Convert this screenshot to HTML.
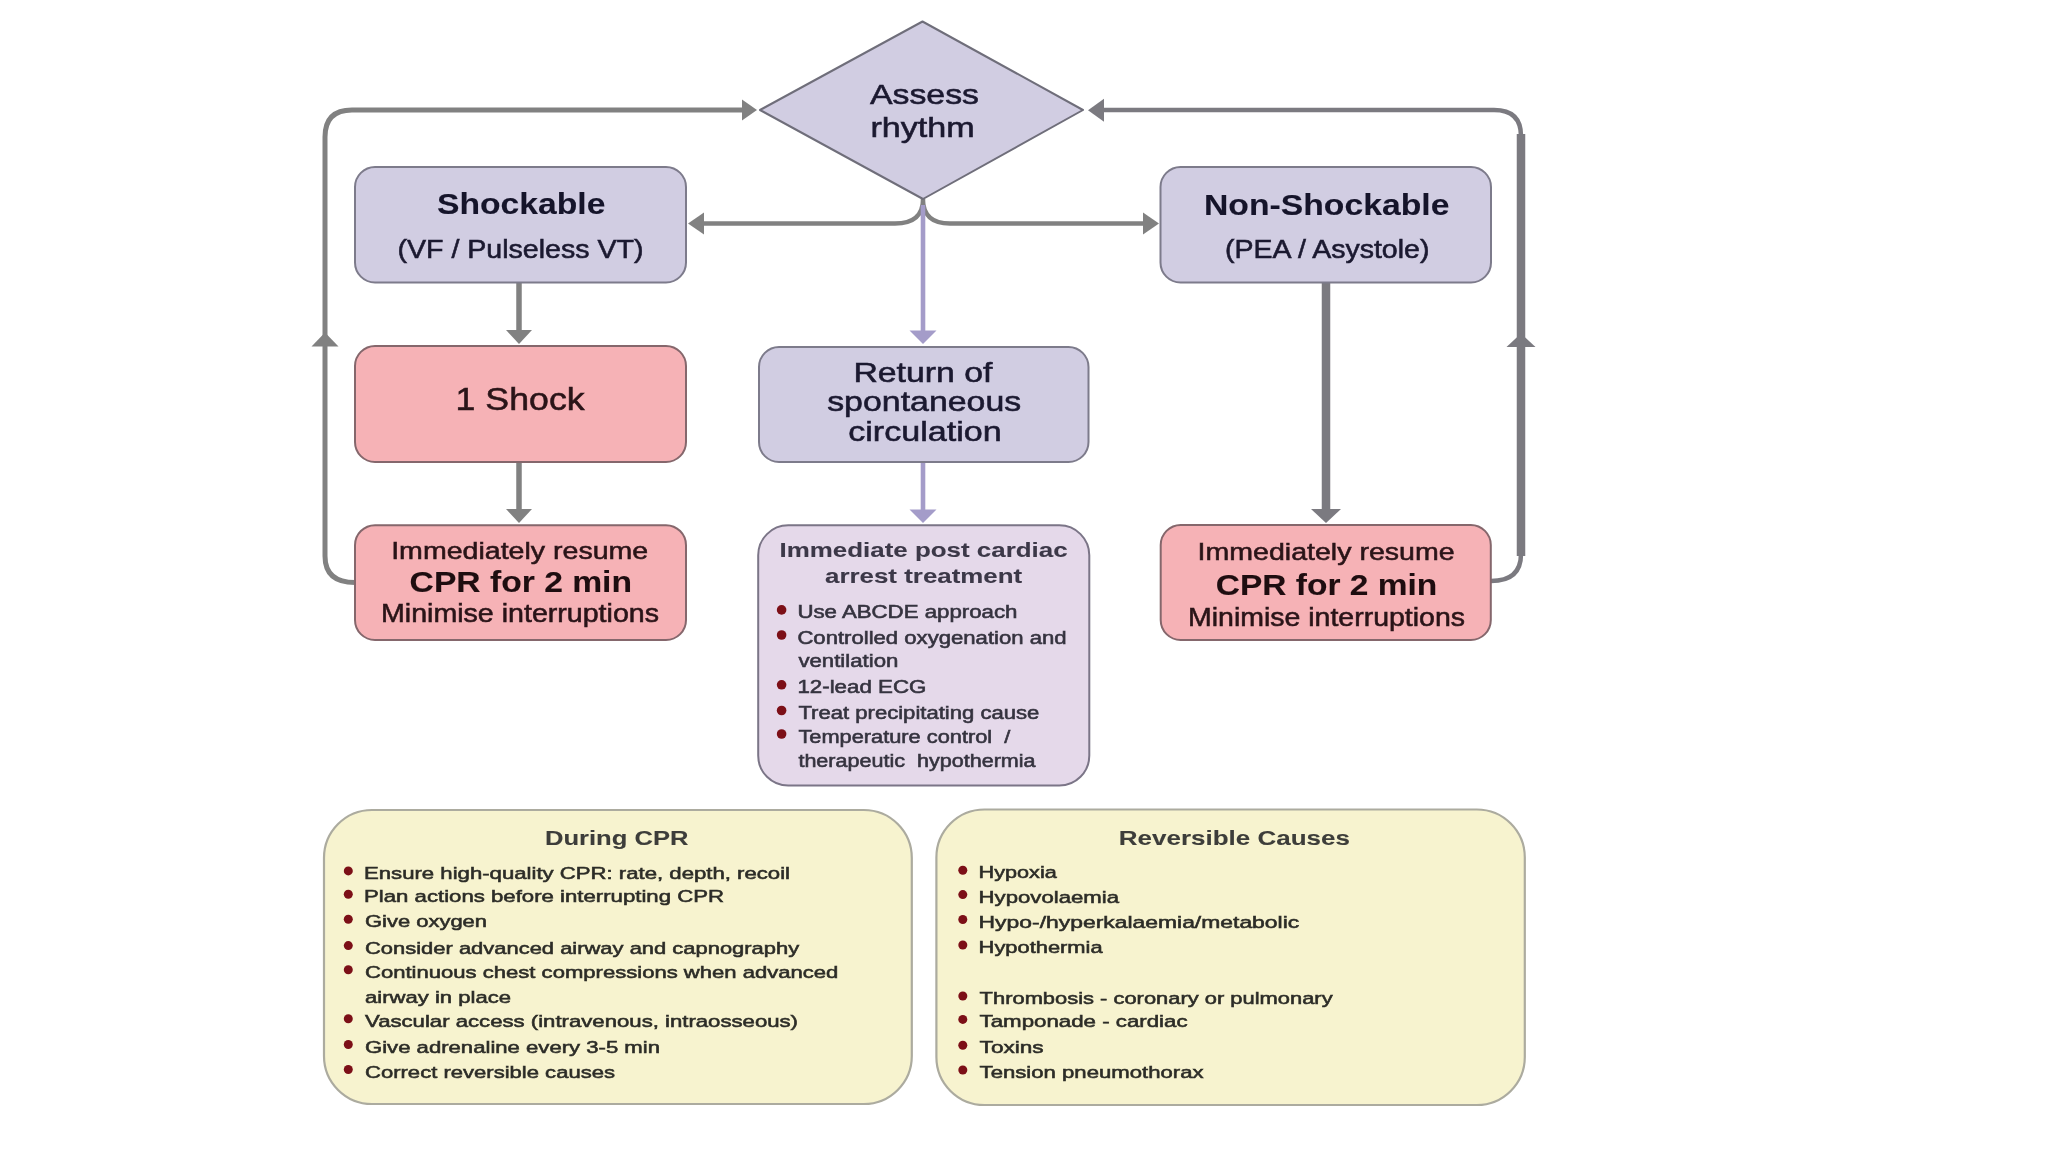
<!DOCTYPE html>
<html><head><meta charset="utf-8">
<style>
html,body{margin:0;padding:0;background:#ffffff;}
body{width:2048px;height:1152px;overflow:hidden;position:relative;}
svg{position:absolute;left:0;top:0;font-family:"Liberation Sans", sans-serif;filter:blur(0.45px);}
</style></head>
<body>
<svg width="2048" height="1152" viewBox="0 0 2048 1152">
<rect x="0" y="0" width="2048" height="1152" fill="#ffffff"/>
<path d="M355,582.5 Q325,582.5 325,556 L325,137 Q325,110 352,110 L745,110" fill="none" stroke="#818181" stroke-width="5"/>
<polygon points="311.5,346.5 338.5,346.5 325,332.5" fill="#818181"/>
<polygon points="742,99.5 742,120.5 757,110" fill="#818181"/>
<path d="M1491,581 Q1521,581 1521,554" fill="none" stroke="#7b7a80" stroke-width="4.5"/>
<path d="M1521,556 L1521,134" fill="none" stroke="#7b7a80" stroke-width="8.5"/>
<path d="M1521,136 Q1521,110 1494,110 L1100,110" fill="none" stroke="#7b7a80" stroke-width="4.5"/>
<polygon points="1506.5,347.0 1535.5,347.0 1521,333.5" fill="#7b7a80"/>
<polygon points="1104,98.8 1104,121.8 1088,110.3" fill="#7b7a80"/>
<path d="M923,199 Q923,223.5 895,223.5 L700,223.5" fill="none" stroke="#818181" stroke-width="4.3"/>
<path d="M923,199 Q923,223.5 950,223.5 L1145,223.5" fill="none" stroke="#818181" stroke-width="4.3"/>
<polygon points="704,212.5 704,234.5 688,223.5" fill="#818181"/>
<polygon points="1143,212.5 1143,234.5 1159,223.5" fill="#818181"/>
<line x1="923" y1="205" x2="923" y2="332" stroke="#a49cc9" stroke-width="4.6"/>
<polygon points="909.5,330.5 936.5,330.5 923,344" fill="#a49cc9"/>
<line x1="923" y1="462" x2="923" y2="511" stroke="#a49cc9" stroke-width="4.6"/>
<polygon points="909.5,509.5 936.5,509.5 923,523" fill="#a49cc9"/>
<line x1="519" y1="282" x2="519" y2="331" stroke="#818181" stroke-width="5.5"/>
<polygon points="506,330 532,330 519,344" fill="#818181"/>
<line x1="519" y1="462" x2="519" y2="510" stroke="#818181" stroke-width="5.5"/>
<polygon points="506,509 532,509 519,523" fill="#818181"/>
<line x1="1326" y1="282" x2="1326" y2="510" stroke="#7b7a80" stroke-width="8.5"/>
<polygon points="1311,509 1341,509 1326,523" fill="#7b7a80"/>
<polygon points="922.5,21.5 1083,110 923,199 760,110" fill="#d1cde2" stroke="#6f6e7a" stroke-width="2" stroke-linejoin="round"/>
<text x="870.0" y="103.6" font-size="28" fill="#1b1930" stroke="#1b1930" stroke-width="0.55" textLength="109.0" lengthAdjust="spacingAndGlyphs">Assess</text>
<text x="870.4" y="137" font-size="28" fill="#1b1930" stroke="#1b1930" stroke-width="0.55" textLength="104.4" lengthAdjust="spacingAndGlyphs">rhythm</text>
<rect x="355" y="167" width="331" height="115.5" rx="20" ry="20" fill="#d1cde2" stroke="#7d7b8b" stroke-width="2"/>
<text x="437.0" y="214.3" font-size="29" font-weight="bold" fill="#15142a" stroke="#15142a" stroke-width="0.1" textLength="168.4" lengthAdjust="spacingAndGlyphs">Shockable</text>
<text x="397.4" y="258.3" font-size="25" fill="#1b1930" stroke="#1b1930" stroke-width="0.55" textLength="246.2" lengthAdjust="spacingAndGlyphs">(VF / Pulseless VT)</text>
<rect x="1160.5" y="167" width="330.5" height="115.5" rx="20" ry="20" fill="#d1cde2" stroke="#7d7b8b" stroke-width="2"/>
<text x="1204.0" y="214.7" font-size="29" font-weight="bold" fill="#15142a" stroke="#15142a" stroke-width="0.1" textLength="245.4" lengthAdjust="spacingAndGlyphs">Non-Shockable</text>
<text x="1225.0" y="257.8" font-size="25" fill="#1b1930" stroke="#1b1930" stroke-width="0.55" textLength="204.4" lengthAdjust="spacingAndGlyphs">(PEA / Asystole)</text>
<rect x="355" y="346" width="331" height="116" rx="20" ry="20" fill="#f6b2b6" stroke="#85676c" stroke-width="2"/>
<text x="455.6" y="410" font-size="32" fill="#2a1418" stroke="#2a1418" stroke-width="0.55" textLength="129.0" lengthAdjust="spacingAndGlyphs">1 Shock</text>
<rect x="759" y="347" width="329.5" height="115" rx="20" ry="20" fill="#d1cde2" stroke="#7d7b8b" stroke-width="2"/>
<text x="853.4" y="381.9" font-size="28" fill="#1b1930" stroke="#1b1930" stroke-width="0.55" textLength="139.0" lengthAdjust="spacingAndGlyphs">Return of</text>
<text x="827.2" y="410.9" font-size="28" fill="#1b1930" stroke="#1b1930" stroke-width="0.55" textLength="194.0" lengthAdjust="spacingAndGlyphs">spontaneous</text>
<text x="848.2" y="440.7" font-size="28" fill="#1b1930" stroke="#1b1930" stroke-width="0.55" textLength="153.6" lengthAdjust="spacingAndGlyphs">circulation</text>
<rect x="355" y="525.2" width="331" height="114.79999999999995" rx="20" ry="20" fill="#f6b2b6" stroke="#85676c" stroke-width="2"/>
<text x="391.2" y="559" font-size="24.5" fill="#2a1418" stroke="#2a1418" stroke-width="0.55" textLength="257.0" lengthAdjust="spacingAndGlyphs">Immediately resume</text>
<text x="409.6" y="591.5" font-size="29" font-weight="bold" fill="#1e0d10" stroke="#1e0d10" stroke-width="0.1" textLength="222.4" lengthAdjust="spacingAndGlyphs">CPR for 2 min</text>
<text x="381.0" y="622.2" font-size="25.5" fill="#2a1418" stroke="#2a1418" stroke-width="0.55" textLength="278.0" lengthAdjust="spacingAndGlyphs">Minimise interruptions</text>
<rect x="1160.7" y="525" width="330.0999999999999" height="115" rx="20" ry="20" fill="#f6b2b6" stroke="#85676c" stroke-width="2"/>
<text x="1197.6" y="559.5" font-size="24.5" fill="#2a1418" stroke="#2a1418" stroke-width="0.55" textLength="257.0" lengthAdjust="spacingAndGlyphs">Immediately resume</text>
<text x="1215.8" y="594.7" font-size="29" font-weight="bold" fill="#1e0d10" stroke="#1e0d10" stroke-width="0.1" textLength="221.4" lengthAdjust="spacingAndGlyphs">CPR for 2 min</text>
<text x="1188.0" y="626.3" font-size="25.5" fill="#2a1418" stroke="#2a1418" stroke-width="0.55" textLength="277.0" lengthAdjust="spacingAndGlyphs">Minimise interruptions</text>
<rect x="758.2" y="525.3" width="331.0999999999999" height="260.30000000000007" rx="30" ry="30" fill="#e5d9ea" stroke="#7b7587" stroke-width="2"/>
<text x="779.6" y="556.9" font-size="19.5" font-weight="bold" fill="#3c3848" stroke="#3c3848" stroke-width="0.1" textLength="288.0" lengthAdjust="spacingAndGlyphs">Immediate post cardiac</text>
<text x="825.0" y="582.5" font-size="19.5" font-weight="bold" fill="#3c3848" stroke="#3c3848" stroke-width="0.1" textLength="197.2" lengthAdjust="spacingAndGlyphs">arrest treatment</text>
<circle cx="781.6" cy="609.9" r="4.8" fill="#7c0f17"/>
<text x="797.4" y="618.4" font-size="17.5" fill="#35333f" stroke="#35333f" stroke-width="0.55" textLength="220.0" lengthAdjust="spacingAndGlyphs" style="white-space:pre">Use ABCDE approach</text>
<circle cx="781.6" cy="635.0" r="4.8" fill="#7c0f17"/>
<text x="797.4" y="643.5" font-size="17.5" fill="#35333f" stroke="#35333f" stroke-width="0.55" textLength="269.2" lengthAdjust="spacingAndGlyphs" style="white-space:pre">Controlled oxygenation and</text>
<text x="798.4" y="667.3" font-size="17.5" fill="#35333f" stroke="#35333f" stroke-width="0.55" textLength="100.0" lengthAdjust="spacingAndGlyphs" style="white-space:pre">ventilation</text>
<circle cx="781.6" cy="684.8" r="4.8" fill="#7c0f17"/>
<text x="797.4" y="693.3" font-size="17.5" fill="#35333f" stroke="#35333f" stroke-width="0.55" textLength="129.0" lengthAdjust="spacingAndGlyphs" style="white-space:pre">12-lead ECG</text>
<circle cx="781.6" cy="710.5" r="4.8" fill="#7c0f17"/>
<text x="798.4" y="719" font-size="17.5" fill="#35333f" stroke="#35333f" stroke-width="0.55" textLength="241.0" lengthAdjust="spacingAndGlyphs" style="white-space:pre">Treat precipitating cause</text>
<circle cx="781.6" cy="734.0" r="4.8" fill="#7c0f17"/>
<text x="798.4" y="742.5" font-size="17.5" fill="#35333f" stroke="#35333f" stroke-width="0.55" textLength="212.0" lengthAdjust="spacingAndGlyphs" style="white-space:pre">Temperature control  /</text>
<text x="798.4" y="767.3" font-size="17.5" fill="#35333f" stroke="#35333f" stroke-width="0.55" textLength="237.2" lengthAdjust="spacingAndGlyphs" style="white-space:pre">therapeutic  hypothermia</text>
<rect x="324" y="810" width="587.8" height="294" rx="48" ry="48" fill="#f7f3cf" stroke="#acab9f" stroke-width="2.2"/>
<rect x="936.4" y="809.5" width="588.4" height="295.5" rx="48" ry="48" fill="#f7f3cf" stroke="#acab9f" stroke-width="2.2"/>
<text x="545.0" y="845.2" font-size="20" font-weight="bold" fill="#3d3d3a" stroke="#3d3d3a" stroke-width="0.1" textLength="143.4" lengthAdjust="spacingAndGlyphs">During CPR</text>
<circle cx="348.3" cy="870.9" r="4.5" fill="#7c0f17"/>
<text x="364.0" y="878.9" font-size="17" fill="#2c2c27" stroke="#2c2c27" stroke-width="0.55" textLength="426.0" lengthAdjust="spacingAndGlyphs">Ensure high-quality CPR: rate, depth, recoil</text>
<circle cx="348.3" cy="894.3" r="4.5" fill="#7c0f17"/>
<text x="364.0" y="902.3" font-size="17" fill="#2c2c27" stroke="#2c2c27" stroke-width="0.55" textLength="360.0" lengthAdjust="spacingAndGlyphs">Plan actions before interrupting CPR</text>
<circle cx="348.3" cy="919.2" r="4.5" fill="#7c0f17"/>
<text x="365.0" y="927.2" font-size="17" fill="#2c2c27" stroke="#2c2c27" stroke-width="0.55" textLength="122.0" lengthAdjust="spacingAndGlyphs">Give oxygen</text>
<circle cx="348.3" cy="945.6" r="4.5" fill="#7c0f17"/>
<text x="365.0" y="953.6" font-size="17" fill="#2c2c27" stroke="#2c2c27" stroke-width="0.55" textLength="434.2" lengthAdjust="spacingAndGlyphs">Consider advanced airway and capnography</text>
<circle cx="348.3" cy="969.8" r="4.5" fill="#7c0f17"/>
<text x="365.0" y="977.8" font-size="17" fill="#2c2c27" stroke="#2c2c27" stroke-width="0.55" textLength="473.4" lengthAdjust="spacingAndGlyphs">Continuous chest compressions when advanced</text>
<text x="365.0" y="1002.7" font-size="17" fill="#2c2c27" stroke="#2c2c27" stroke-width="0.55" textLength="146.0" lengthAdjust="spacingAndGlyphs">airway in place</text>
<circle cx="348.3" cy="1018.8" r="4.5" fill="#7c0f17"/>
<text x="365.0" y="1026.8" font-size="17" fill="#2c2c27" stroke="#2c2c27" stroke-width="0.55" textLength="433.0" lengthAdjust="spacingAndGlyphs">Vascular access (intravenous, intraosseous)</text>
<circle cx="348.3" cy="1044.5" r="4.5" fill="#7c0f17"/>
<text x="365.0" y="1052.5" font-size="17" fill="#2c2c27" stroke="#2c2c27" stroke-width="0.55" textLength="295.0" lengthAdjust="spacingAndGlyphs">Give adrenaline every 3-5 min</text>
<circle cx="348.3" cy="1069.5" r="4.5" fill="#7c0f17"/>
<text x="365.0" y="1077.5" font-size="17" fill="#2c2c27" stroke="#2c2c27" stroke-width="0.55" textLength="250.0" lengthAdjust="spacingAndGlyphs">Correct reversible causes</text>
<text x="1118.8" y="845.1" font-size="20" font-weight="bold" fill="#3d3d3a" stroke="#3d3d3a" stroke-width="0.1" textLength="231.2" lengthAdjust="spacingAndGlyphs">Reversible Causes</text>
<circle cx="962.8" cy="870.2" r="4.5" fill="#7c0f17"/>
<text x="978.6" y="878.2" font-size="17" fill="#2c2c27" stroke="#2c2c27" stroke-width="0.55" textLength="78.2" lengthAdjust="spacingAndGlyphs">Hypoxia</text>
<circle cx="962.8" cy="894.6" r="4.5" fill="#7c0f17"/>
<text x="978.6" y="902.6" font-size="17" fill="#2c2c27" stroke="#2c2c27" stroke-width="0.55" textLength="140.4" lengthAdjust="spacingAndGlyphs">Hypovolaemia</text>
<circle cx="962.8" cy="919.5" r="4.5" fill="#7c0f17"/>
<text x="978.6" y="927.5" font-size="17" fill="#2c2c27" stroke="#2c2c27" stroke-width="0.55" textLength="320.6" lengthAdjust="spacingAndGlyphs">Hypo-/hyperkalaemia/metabolic</text>
<circle cx="962.8" cy="945" r="4.5" fill="#7c0f17"/>
<text x="978.6" y="953" font-size="17" fill="#2c2c27" stroke="#2c2c27" stroke-width="0.55" textLength="124.0" lengthAdjust="spacingAndGlyphs">Hypothermia</text>
<circle cx="962.8" cy="996" r="4.5" fill="#7c0f17"/>
<text x="979.6" y="1004" font-size="17" fill="#2c2c27" stroke="#2c2c27" stroke-width="0.55" textLength="353.0" lengthAdjust="spacingAndGlyphs">Thrombosis - coronary or pulmonary</text>
<circle cx="962.8" cy="1019.4000000000001" r="4.5" fill="#7c0f17"/>
<text x="979.6" y="1027.4" font-size="17" fill="#2c2c27" stroke="#2c2c27" stroke-width="0.55" textLength="208.0" lengthAdjust="spacingAndGlyphs">Tamponade - cardiac</text>
<circle cx="962.8" cy="1045.2" r="4.5" fill="#7c0f17"/>
<text x="979.6" y="1053.2" font-size="17" fill="#2c2c27" stroke="#2c2c27" stroke-width="0.55" textLength="64.0" lengthAdjust="spacingAndGlyphs">Toxins</text>
<circle cx="962.8" cy="1070" r="4.5" fill="#7c0f17"/>
<text x="979.6" y="1078" font-size="17" fill="#2c2c27" stroke="#2c2c27" stroke-width="0.55" textLength="224.0" lengthAdjust="spacingAndGlyphs">Tension pneumothorax</text>
</svg>
</body></html>
